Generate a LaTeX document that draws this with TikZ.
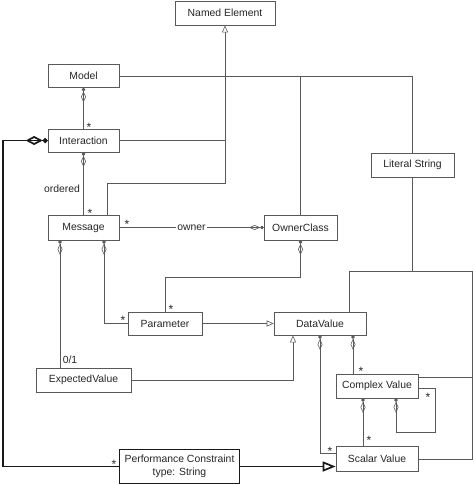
\documentclass[tikz,border=0pt]{standalone}
\usepackage{fontspec}
\setmainfont{Liberation Sans}
\usetikzlibrary{arrows.meta}
\begin{document}
\begin{tikzpicture}[x=1pt,y=-1pt,
  font=\fontsize{10.4}{12}\selectfont,
  cls/.style={draw=black!65, line width=0.7pt, inner sep=0pt, fill=white, text=black!85},
  ln/.style={draw=black!65, line width=0.6pt},
  thk/.style={draw=black!90, line width=1.7pt},
  agg/.style={-{Diamond[open,length=11pt,width=5pt,sep=0pt]Circle[length=3.5pt,width=3.5pt]}},
  bigagg/.style={-{Diamond[open,length=17pt,width=9pt,sep=0pt,line width=1.7pt]Circle[length=5pt,width=5pt]}},
  gen/.style={-{Triangle[open,length=7pt,width=6pt,fill=white]}},
  bigen/.style={-{Triangle[open,length=13pt,width=10pt,fill=white,line width=1.7pt]}},
  st/.style={font=\fontsize{12}{12}\selectfont, inner sep=0pt, anchor=base, text=black!85},
  lab/.style={inner sep=1pt, text=black!85}]
\useasboundingbox (0,0) rectangle (474,485);

% classes
\node[cls, minimum width=100pt, minimum height=24pt] (NE) at (225,13) {Named Element};
\node[cls, minimum width=71pt, minimum height=23pt] (Model) at (83.5,76) {Model};
\node[cls, minimum width=71pt, minimum height=23pt] (Inter) at (83.5,140.5) {Interaction};
\node[cls, minimum width=71pt, minimum height=25pt] (Msg) at (83.5,227.5) {Message};
\node[cls, minimum width=73pt, minimum height=25pt] (Owner) at (300.5,227.5) {OwnerClass};
\node[cls, minimum width=83pt, minimum height=24pt] (Lit) at (412.5,165) {Literal String};
\node[cls, minimum width=74pt, minimum height=23pt] (Param) at (165,323.5) {Parameter};
\node[cls, minimum width=92pt, minimum height=23pt] (DV) at (320,323.5) {DataValue};
\node[cls, minimum width=95pt, minimum height=24pt] (Exp) at (83.5,380) {ExpectedValue};
\node[cls, minimum width=82pt, minimum height=24pt] (CV) at (377,386) {Complex Value};
\node[cls, minimum width=82pt, minimum height=25pt] (SV) at (377,459) {Scalar Value};
\node[cls, draw=black!90, line width=1.7pt, minimum width=120pt, minimum height=34pt, align=center, font=\fontsize{10.4}{13.5}\selectfont] (PC) at (179.5,466.5) {Performance Constraint\\type: String};

% generalization tree to Named Element
\draw[ln] (Model.east) -| (Lit.north);
\draw[ln] (Owner.north) -- (Owner.north |- Model.east);
\draw[ln,gen] (Inter.east) -| (NE.south);
\draw[ln] ([xshift=23.5pt]Msg.north) |- (NE.south |- 0,183) -- (NE.south |- Inter.east);

% aggregations
\draw[ln,agg] (Inter.north) -- (Model.south);
\draw[ln,agg] (Msg.north) -- (Inter.south);
\draw[ln,agg] (Msg.east) -- node[lab, fill=white, pos=0.5]{owner} (Owner.west);
\draw[ln,agg] ([xshift=-23.5pt]Exp.north) -- ([xshift=-23.5pt]Msg.south);
\draw[ln,agg] (Param.west) -| ([xshift=20.5pt]Msg.south);
\draw[ln,agg] (Param.north) -- (Param.north |- 0,277) -| (Owner.south);
\draw[ln,agg] ([yshift=6pt]SV.west) -| (DV.south);
\draw[ln,agg] ([xshift=-24pt]CV.north) -- ([xshift=33pt]DV.south);
\draw[ln,agg] ([xshift=-14pt]SV.north) -- ([xshift=-14pt]CV.south);
\draw[ln,agg] ([yshift=-2pt]CV.east) -- (435,388) -- (435,432) -| ([xshift=19pt]CV.south);

% generalizations to DataValue
\draw[ln,gen] (Param.east) -- (DV.west);
\draw[ln,gen] (Exp.east) -| ([xshift=-27pt]DV.south);

% Literal String links
\draw[ln] (Lit.south) -- (Lit.south |- 0,271);
\draw[ln] ([xshift=29pt]DV.north) |- (472,271) |- (SV.east);
\draw[ln] ([yshift=9pt]CV.east) -- (472,377);

% Performance Constraint
\draw[thk,bigen] (PC.east) -- (PC.east -| SV.west);
\draw[thk,bigagg] (PC.west) -- (3,466.5) -- (3,140.5) -- (Inter.west);

% labels
\node[lab] at (62,189) {ordered};
\node[lab] at (70,360) {0/1};

% multiplicities
\node[st] at (89,131) {*};
\node[st] at (90,217) {*};
\node[st] at (127,228) {*};
\node[st] at (171,313) {*};
\node[st] at (123,324) {*};
\node[st] at (361,375) {*};
\node[st] at (330,455) {*};
\node[st] at (369,444) {*};
\node[st] at (428,401) {*};
\node[st] at (114,468) {*};
\end{tikzpicture}
\end{document}
